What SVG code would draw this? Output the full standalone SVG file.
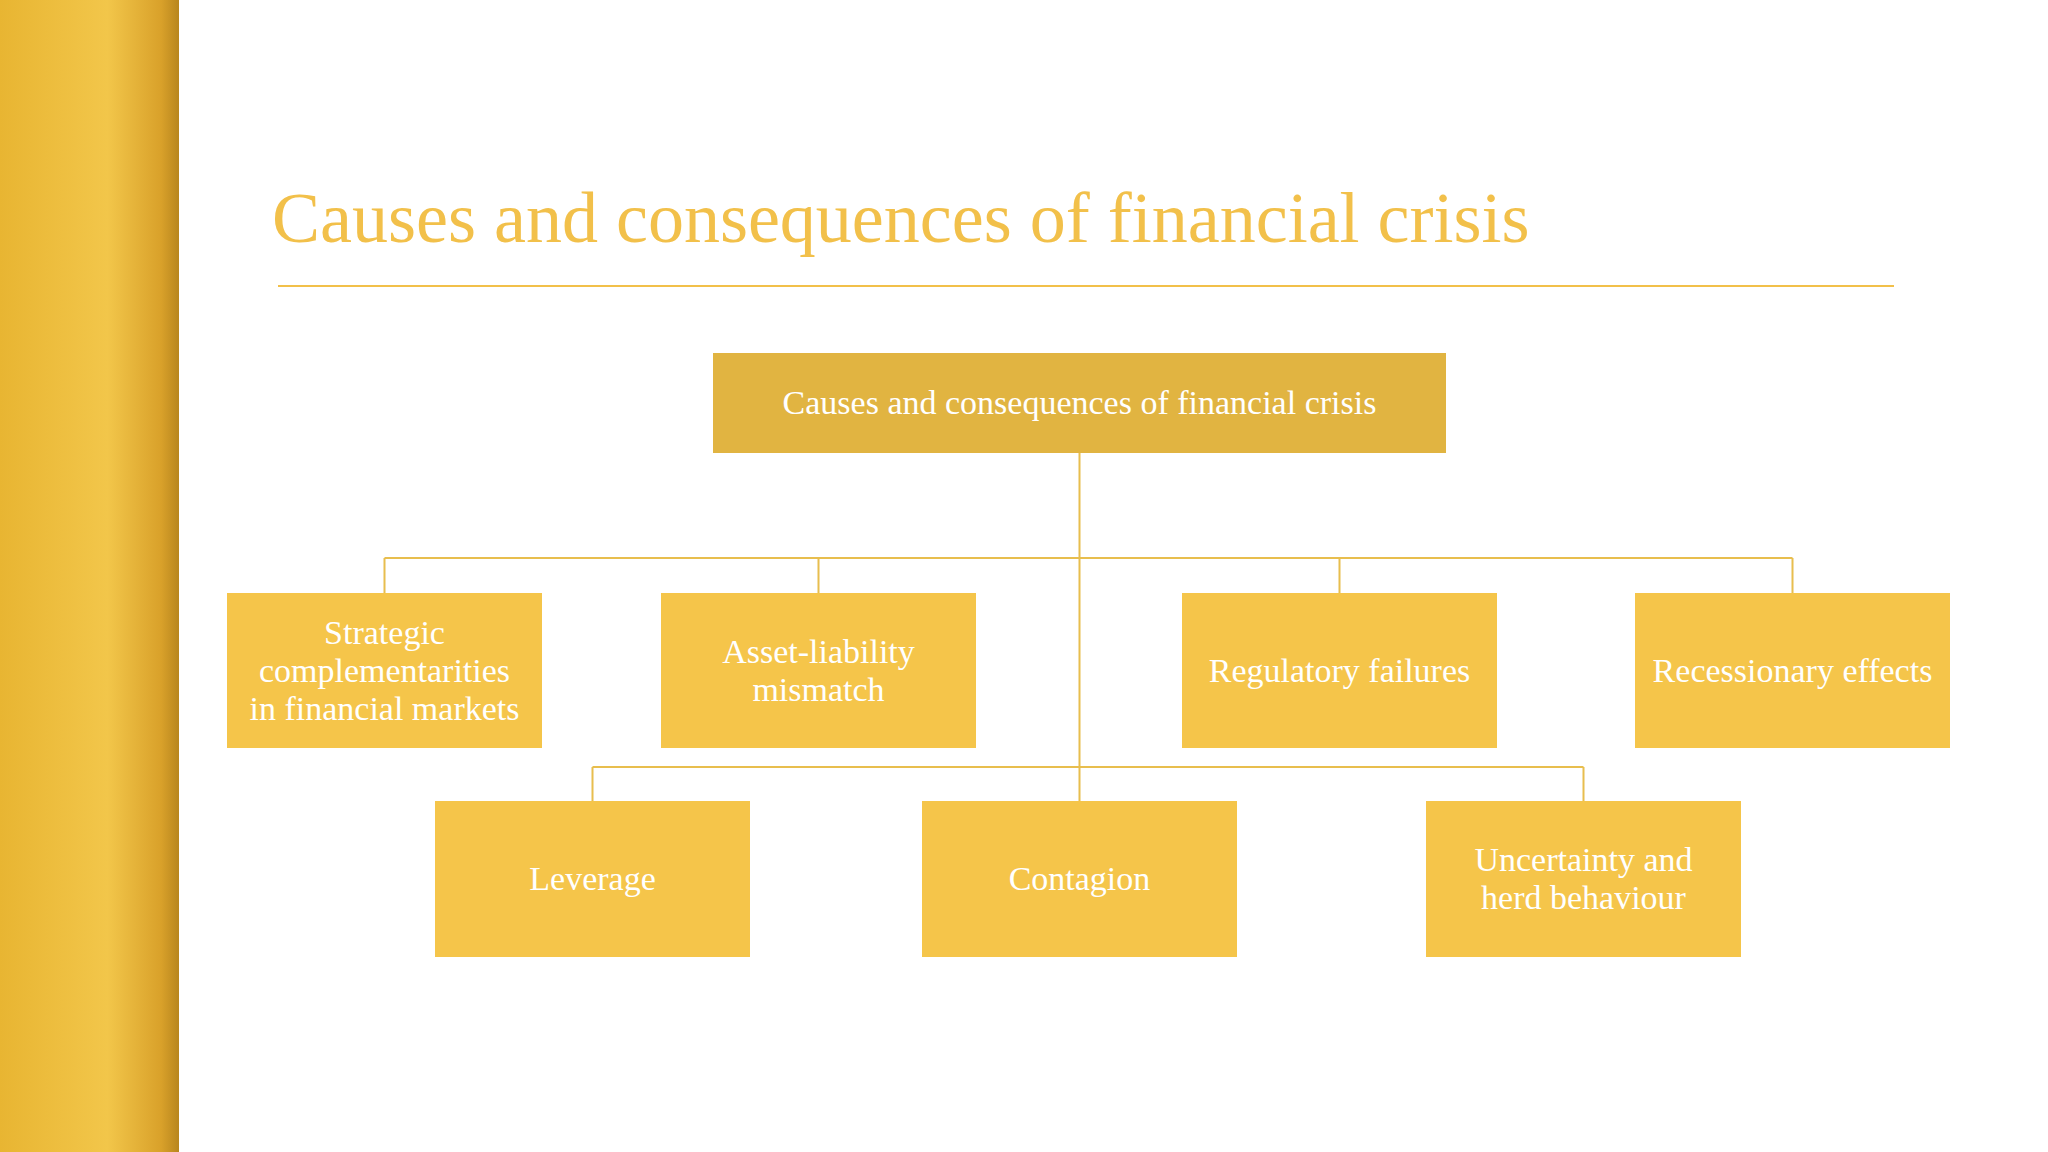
<svg xmlns="http://www.w3.org/2000/svg" width="2048" height="1152" viewBox="0 0 2048 1152">
<defs>
<linearGradient id="strip" x1="0" y1="0" x2="1" y2="0">
<stop offset="0" stop-color="#E8B532"/><stop offset="0.6" stop-color="#F2C64A"/><stop offset="0.9" stop-color="#D9A12A"/><stop offset="1" stop-color="#B8861E"/>
</linearGradient>
<style>
.box{fill:#F5C54A}
.top{fill:#E1B441}
.t{font-family:"Liberation Serif",serif;font-size:34px;fill:#FFFFFF;text-anchor:middle}
.c{stroke:#E8BE4E;stroke-width:2;fill:none}
</style>
</defs>
<rect width="2048" height="1152" fill="#FFFFFF"/>
<rect x="0" y="0" width="179" height="1152" fill="url(#strip)"/>
<text x="272" y="242" font-family="Liberation Serif, serif" font-size="72" fill="#F2C04A">Causes and consequences of financial crisis</text>
<line x1="278" y1="286" x2="1894" y2="286" stroke="#F2C04A" stroke-width="2"/>
<g id="connectors">
<path class="c" d="M1079.5 453V801M384.5 558H1792.5M384.5 558V593M818.5 558V593M1339.5 558V593M1792.5 558V593M592.5 767H1583.5M592.5 767V801M1583.5 767V801"/>
</g>
<g id="root"><rect class="top" x="713" y="353" width="733" height="100"/><text class="t" x="1079.5" y="414">Causes and consequences of financial crisis</text></g>
<g id="n1"><rect class="box" x="227" y="593" width="315" height="155"/><text class="t" x="384.5" y="644">Strategic</text><text class="t" x="384.5" y="682">complementarities</text><text class="t" x="384.5" y="720">in financial markets</text></g>
<g id="n2"><rect class="box" x="661" y="593" width="315" height="155"/><text class="t" x="818.5" y="663">Asset-liability</text><text class="t" x="818.5" y="701">mismatch</text></g>
<g id="n3"><rect class="box" x="1182" y="593" width="315" height="155"/><text class="t" x="1339.5" y="682">Regulatory failures</text></g>
<g id="n4"><rect class="box" x="1635" y="593" width="315" height="155"/><text class="t" x="1792.5" y="682">Recessionary effects</text></g>
<g id="n5"><rect class="box" x="435" y="801" width="315" height="156"/><text class="t" x="592.5" y="890">Leverage</text></g>
<g id="n6"><rect class="box" x="922" y="801" width="315" height="156"/><text class="t" x="1079.5" y="890">Contagion</text></g>
<g id="n7"><rect class="box" x="1426" y="801" width="315" height="156"/><text class="t" x="1583.5" y="871">Uncertainty and</text><text class="t" x="1583.5" y="909">herd behaviour</text></g>
</svg>
